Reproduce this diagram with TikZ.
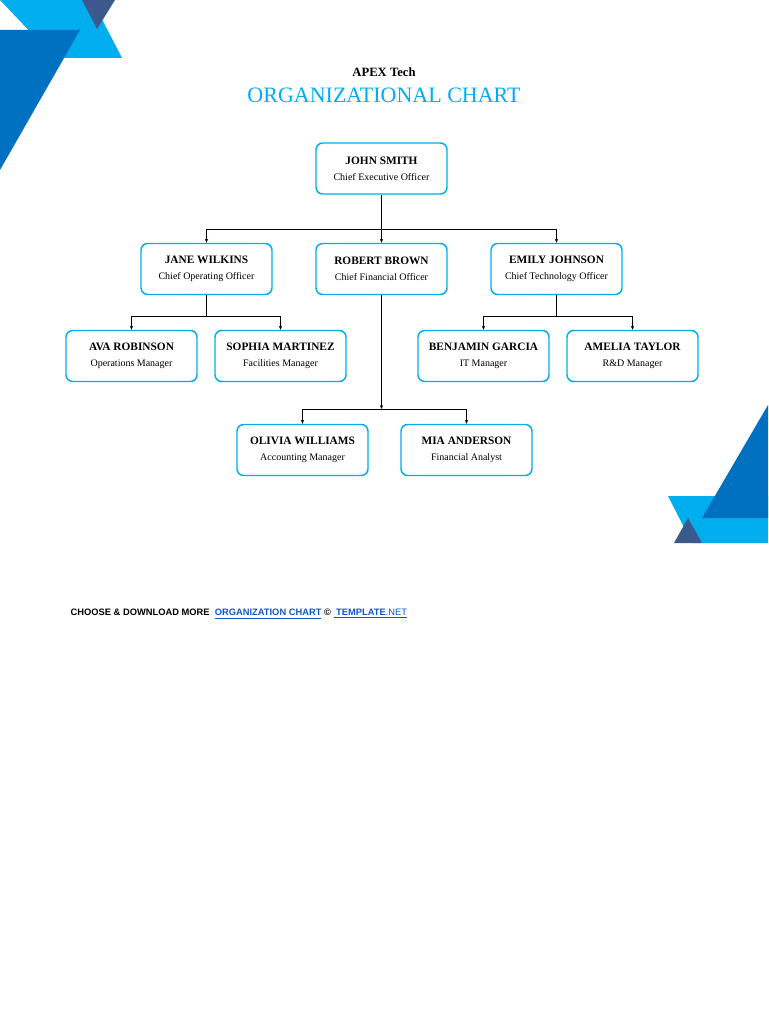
\documentclass[tikz,border=0pt]{standalone}
\usepackage{fontspec}
\setmainfont{Liberation Serif}
\setsansfont{Liberation Sans}
\usetikzlibrary{arrows.meta}
\definecolor{lb}{RGB}{0,174,239}
\definecolor{db}{RGB}{0,112,192}
\definecolor{sl}{RGB}{59,89,140}
\definecolor{lk}{RGB}{17,85,204}
\begin{document}
\begin{tikzpicture}[x=0.75pt,y=-0.75pt,
  pbox/.style={draw=lb,line width=1.1pt,rounded corners=5pt,minimum width=131*0.75pt,minimum height=51*0.75pt,align=center,inner sep=0pt,font=\fontsize{7.5}{11}\selectfont},
  conn/.style={line width=0.6pt},
  arr/.style={conn,-{Stealth[length=3pt,width=2.5pt]}}]
\useasboundingbox (0,0) rectangle (768,1024);
\fill[lb] (0,0) -- (92,0) -- (122,58) -- (55,58) -- cycle;
\fill[db] (0,30) -- (80,30) -- (0,170) -- cycle;
\fill[sl] (82,0) -- (115,0) -- (97,29) -- cycle;
\fill[lb] (668,496) -- (768,496) -- (768,543) -- (692,543) -- cycle;
\fill[db] (768,405) -- (768,518) -- (702,518) -- cycle;
\fill[sl] (674,543) -- (702,543) -- (688,518) -- cycle;
\node (apex) at (384,72) {\fontsize{9.5}{11}\selectfont\bfseries APEX Tech};
\node (title) at (384,95) {\color{lb}\fontsize{16.5}{20}\selectfont ORGANIZATIONAL CHART};
\newcommand{\pp}[2]{{\fontsize{8.5}{11}\selectfont\bfseries #1}\\[1pt]#2}
\node[pbox] (ceo) at (381.5,168.5) {\pp{JOHN SMITH}{Chief Executive Officer}};
\node[pbox] (coo) at (206.5,269) {\pp{JANE WILKINS}{Chief Operating Officer}};
\node[pbox] (cfo) at (381.5,269) {\pp{ROBERT BROWN}{Chief Financial Officer}};
\node[pbox] (cto) at (556.5,269) {\pp{EMILY JOHNSON}{Chief Technology Officer}};
\node[pbox] (ava) at (131.5,356) {\pp{AVA ROBINSON}{Operations Manager}};
\node[pbox] (sop) at (280.5,356) {\pp{SOPHIA MARTINEZ}{Facilities Manager}};
\node[pbox] (ben) at (483.5,356) {\pp{BENJAMIN GARCIA}{IT Manager}};
\node[pbox] (ame) at (632.5,356) {\pp{AMELIA TAYLOR}{R\&D Manager}};
\node[pbox] (oli) at (302.5,450) {\pp{OLIVIA WILLIAMS}{Accounting Manager}};
\node[pbox] (mia) at (466.5,450) {\pp{MIA ANDERSON}{Financial Analyst}};
\coordinate (j1) at (381.5,229);
\draw[conn] (ceo.south) -- (j1);
\draw[arr] (j1) -| (coo.north);
\draw[arr] (j1) -- (cfo.north);
\draw[arr] (j1) -| (cto.north);
\coordinate (j2) at (206.5,316);
\draw[conn] (coo.south) -- (j2);
\draw[arr] (j2) -| (ava.north);
\draw[arr] (j2) -| (sop.north);
\coordinate (j3) at (556.5,316);
\draw[conn] (cto.south) -- (j3);
\draw[arr] (j3) -| (ben.north);
\draw[arr] (j3) -| (ame.north);
\coordinate (j4) at (381.5,409);
\draw[arr] (cfo.south) -- (j4);
\draw[arr] (j4) -| (oli.north);
\draw[arr] (j4) -| (mia.north);
\node[anchor=west,font=\sffamily\bfseries\fontsize{7}{9}\selectfont] (foot) at (66,614) {CHOOSE \& DOWNLOAD MORE\ \ \textcolor{lk}{\underline{ORGANIZATION CHART}} © \textcolor{lk}{\underline{\ TEMPLATE}}\textcolor{lk}{\mdseries\underline{.NET}}};
\end{tikzpicture}
\end{document}
